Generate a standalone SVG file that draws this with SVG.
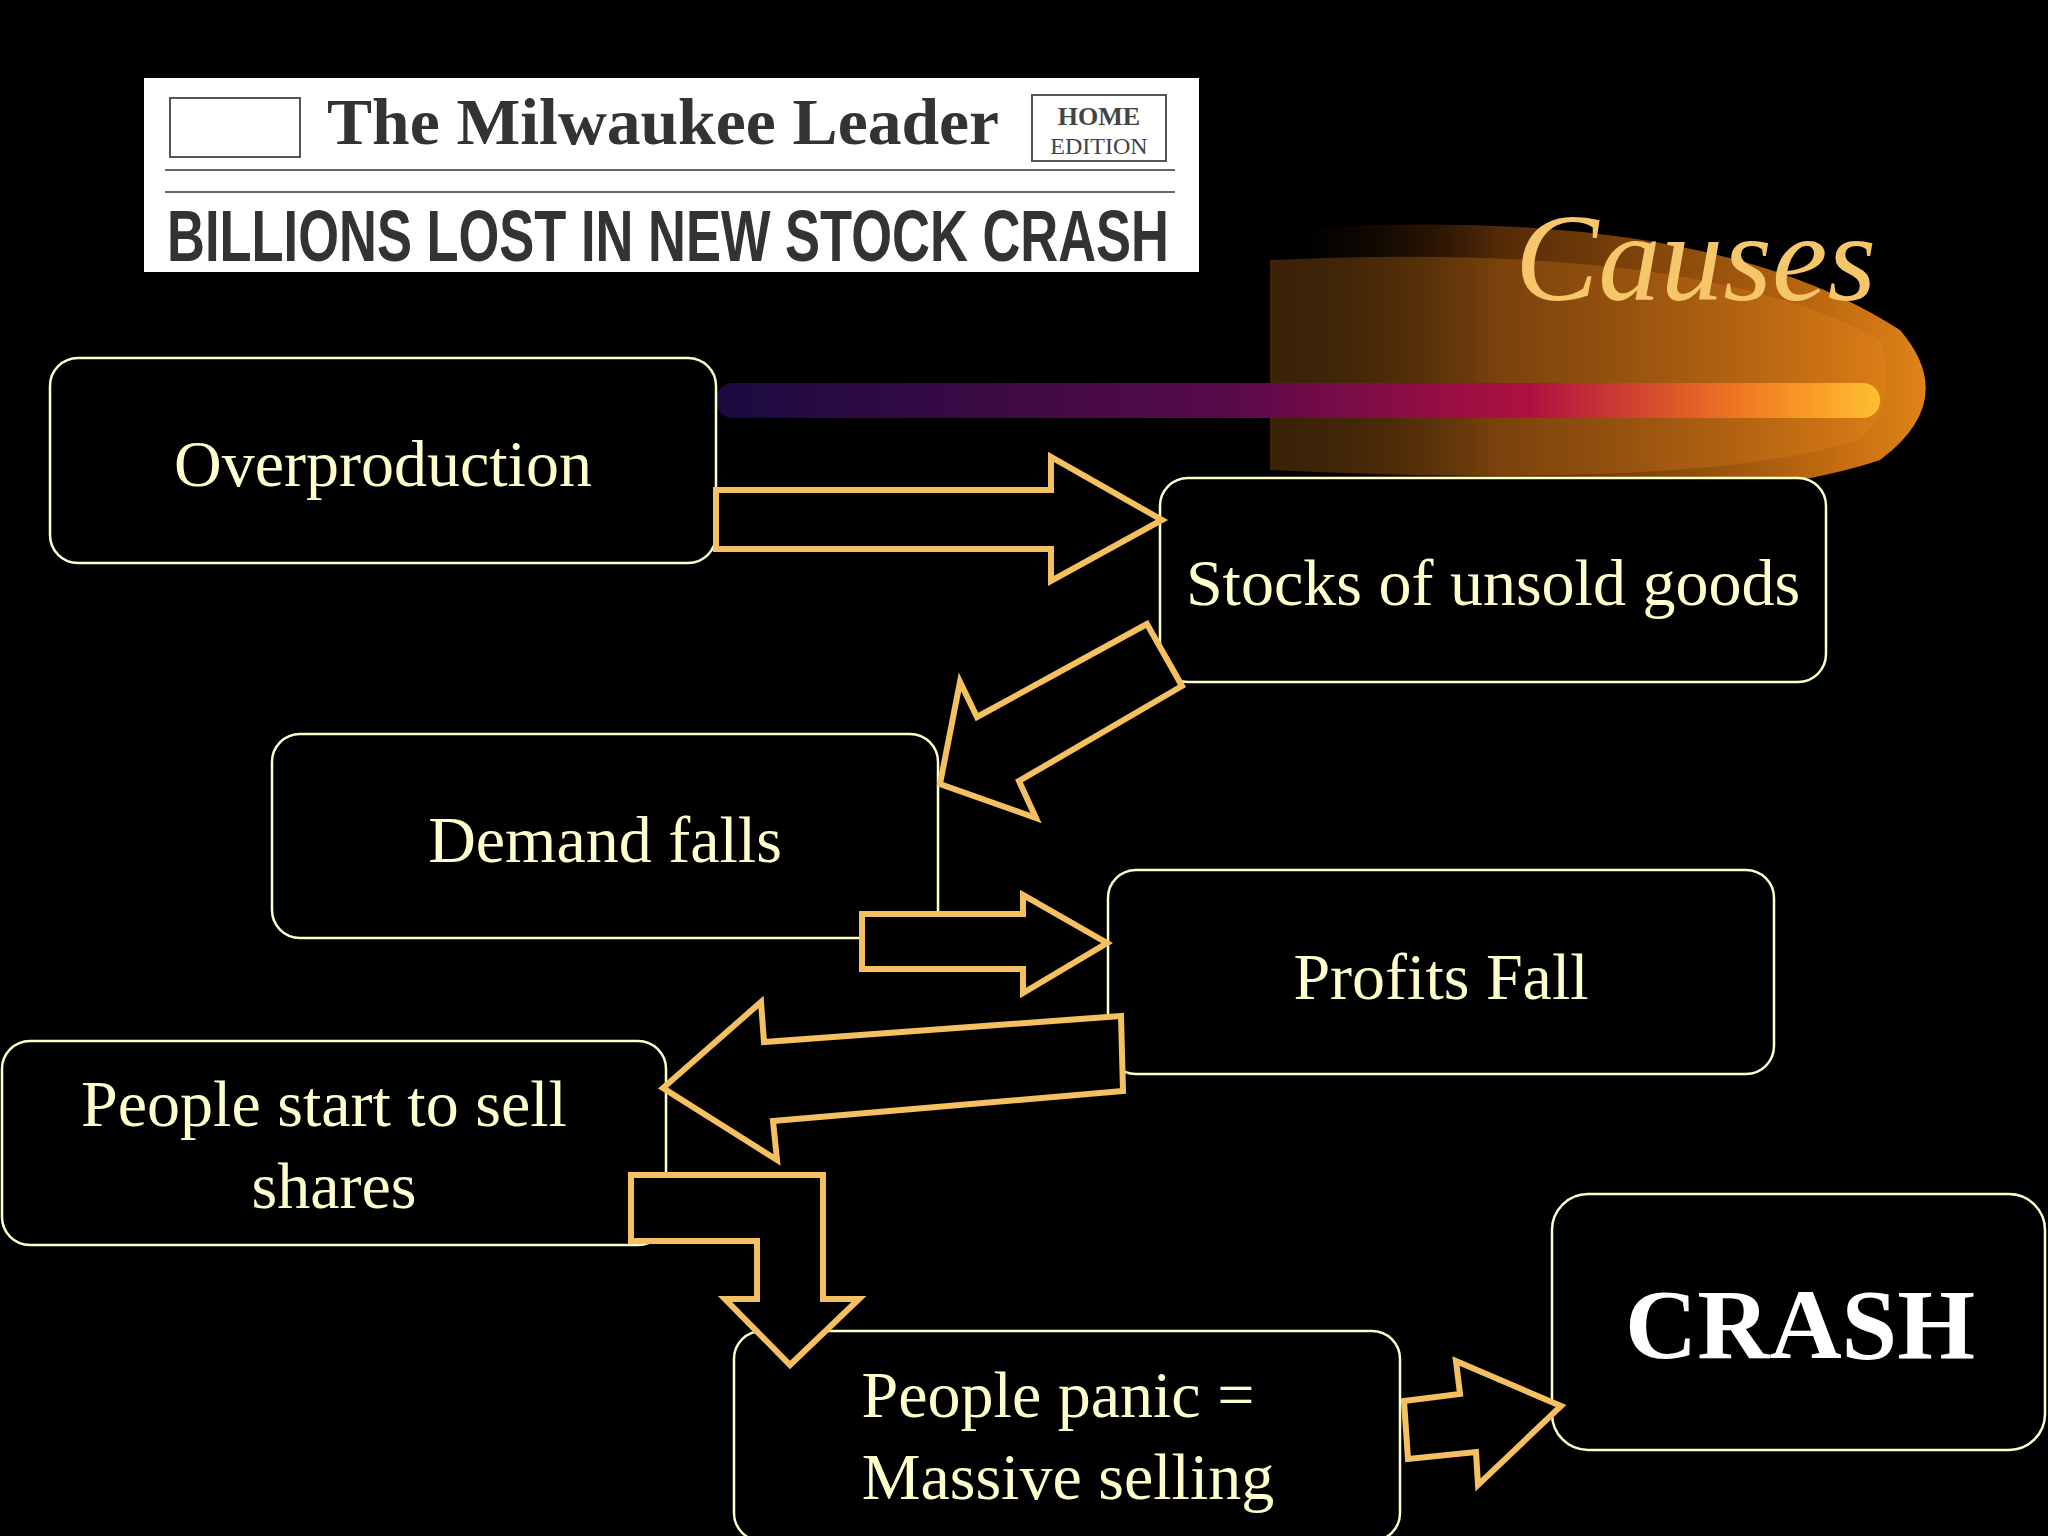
<svg xmlns="http://www.w3.org/2000/svg" width="2048" height="1536" viewBox="0 0 2048 1536">
<defs>
<linearGradient id="bar" x1="0" x2="1" y1="0" y2="0">
<stop offset="0" stop-color="#1a0a40"/><stop offset="0.45" stop-color="#5a0a4a"/><stop offset="0.7" stop-color="#b01040"/><stop offset="0.88" stop-color="#f07820"/><stop offset="1" stop-color="#ffc030"/>
</linearGradient>
<linearGradient id="glow" x1="0" x2="1" y1="0" y2="0">
<stop offset="0" stop-color="#000" stop-opacity="0"/><stop offset="0.35" stop-color="#6a3508" stop-opacity="0.8"/><stop offset="0.85" stop-color="#c06a10"/><stop offset="1" stop-color="#e08418"/>
</linearGradient>
<style>
.box{fill:#000;stroke:#ffffcc;stroke-width:2.5}
.lbl{font-family:"Liberation Serif",serif;font-size:66px;fill:#ffffcc;text-anchor:middle}
.arr{fill:#000;stroke:#f5c060;stroke-width:6;stroke-linejoin:miter}
</style>
</defs>
<rect width="2048" height="1536" fill="#000"/>
<path d="M1270 490 L1270 230 Q1700 200 1900 330 Q1960 400 1880 460 Q1700 520 1270 490 Z" fill="url(#glow)"/>
<path d="M1270 470 L1270 260 Q1700 240 1880 340 Q1900 400 1860 440 Q1700 490 1270 470 Z" fill="#f08a20" opacity="0.25"/>
<rect x="716" y="383" width="1164" height="35" rx="17" fill="url(#bar)"/>
<text x="1515" y="300" font-family="Liberation Serif,serif" font-style="italic" font-size="125" fill="#f5c66a">Causes</text>
<g id="newspaper">
<rect x="144" y="78" width="1055" height="194" fill="#fff"/>
<rect x="170" y="98" width="130" height="59" fill="none" stroke="#555" stroke-width="2"/>
<text x="327" y="144" font-family="Liberation Serif,serif" font-weight="bold" font-size="66" fill="#333" textLength="672" lengthAdjust="spacingAndGlyphs">The Milwaukee Leader</text>
<rect x="1032" y="95" width="134" height="66" fill="none" stroke="#555" stroke-width="2"/>
<text x="1099" y="125" font-family="Liberation Serif,serif" font-weight="bold" font-size="26" fill="#444" text-anchor="middle">HOME</text>
<text x="1099" y="154" font-family="Liberation Serif,serif" font-size="24" fill="#444" text-anchor="middle">EDITION</text>
<line x1="165" y1="170" x2="1175" y2="170" stroke="#666" stroke-width="2"/>
<line x1="165" y1="192" x2="1175" y2="192" stroke="#666" stroke-width="2"/>
<text x="167" y="261" font-family="Liberation Sans,sans-serif" font-weight="bold" font-size="72" fill="#333" textLength="1002" lengthAdjust="spacingAndGlyphs">BILLIONS LOST IN NEW STOCK CRASH</text>
</g>
<g id="overproduction"><rect class="box" x="50" y="358" width="666" height="205" rx="28"/><text class="lbl" x="383" y="486">Overproduction</text></g>
<g id="stocks"><rect class="box" x="1160" y="478" width="666" height="204" rx="28"/><text class="lbl" x="1493" y="605">Stocks of unsold goods</text></g>
<g id="demand"><rect class="box" x="272" y="734" width="666" height="204" rx="28"/><text class="lbl" x="605" y="862">Demand falls</text></g>
<g id="profits"><rect class="box" x="1108" y="870" width="666" height="204" rx="28"/><text class="lbl" x="1441" y="999">Profits Fall</text></g>
<g id="sell"><rect class="box" x="2" y="1041" width="664" height="204" rx="28"/><text class="lbl" x="324" y="1126">People start to sell</text><text class="lbl" x="334" y="1208">shares</text></g>
<g id="panic"><rect class="box" x="734" y="1331" width="666" height="210" rx="28"/><text class="lbl" x="1058" y="1417">People panic =</text><text class="lbl" x="1068" y="1499">Massive selling</text></g>
<g id="crash"><rect class="box" x="1552" y="1194" width="493" height="256" rx="36"/><text x="1800" y="1358" font-family="Liberation Serif,serif" font-weight="bold" font-size="100" fill="#fff" text-anchor="middle">CRASH</text></g>
<g id="connectors">
<polygon class="arr" points="716,490 1051,490 1051,457 1162,520 1051,581 1051,549 716,549"/>
<polygon class="arr" points="1147,624 977,717 960,682 940,784 1036,818 1019,781 1182,686"/>
<polygon class="arr" points="862,914 1023,914 1023,895 1107,943 1023,993 1023,969 862,969"/>
<polygon class="arr" points="1121,1016 764,1042 761,1002 663,1088 777,1160 773,1121 1123,1091"/>
<polygon class="arr" points="631,1175 823,1175 823,1299 859,1299 790,1365 725,1299 757,1299 757,1241 631,1241"/>
<polygon class="arr" points="1404,1401 1460,1394 1456,1361 1561,1406 1478,1485 1476,1452 1408,1459"/>
</g>
</svg>
